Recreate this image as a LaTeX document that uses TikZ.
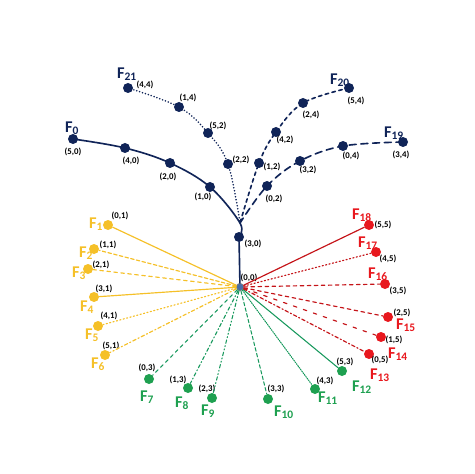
\documentclass[tikz,border=0pt]{standalone}
\usepackage{fontspec}
\setmainfont{Carlito}
\definecolor{navy}{RGB}{16,36,88}
\definecolor{gold}{RGB}{245,192,40}
\definecolor{leaf}{RGB}{30,160,80}
\definecolor{fire}{RGB}{232,24,30}
\definecolor{hubblue}{RGB}{70,110,170}
\begin{document}
\begin{tikzpicture}[x=0.3mm, y=-0.3mm, line cap=round, line join=round,
	dot/.style={circle, fill=#1, inner sep=0pt, minimum size=3mm},
	clab/.style={font=\fontsize{7.5}{8}\selectfont\bfseries, inner sep=0pt},
	flab/.style={text=#1, font=\fontsize{14}{16}\selectfont\bfseries, inner sep=0pt}]
	\useasboundingbox (0,0) rectangle (474,474);
	% root
	\node[circle, fill=hubblue, draw=gray, line width=.6pt, inner sep=0pt, minimum size=2.2mm] (o) at (240,287) {};
	\node[clab] (o-t) at (249,278) {(0,0)};
	% navy branches
	\foreach \nm/\px/\py/\c/\cx/\cy in {a50/73/139/{(5,0)}/73/152, a40/125/148/{(4,0)}/131/161,
		a20/170/163/{(2,0)}/168/177, a10/210/187/{(1,0)}/203/197,
		b44/128/88/{(4,4)}/145/85, b14/179/107/{(1,4)}/188/98, b52/208/133/{(5,2)}/218/126, b22/228/164/{(2,2)}/241/160,
		c54/349/88/{(5,4)}/356/101, c24/303/103/{(2,4)}/311/115, c42/276/132/{(4,2)}/285/140, c12/259/163/{(1,2)}/272/167,
		d34/403/142/{(3,4)}/401/155, d04/343/146/{(0,4)}/351/156, d32/300/161/{(3,2)}/308/170, d02/267/186/{(0,2)}/274/199,
		a30/239/237/{(3,0)}/253/244}
	{
		\node[dot=navy] (\nm) at (\px,\py) {};
		\node[clab] (\nm-t) at (\cx,\cy) {\c};
	}
	\node[flab=navy] (f0) at (72,128) {F\textsubscript{0}};
	\node[flab=navy] (f21) at (127,74) {F\textsubscript{21}};
	\node[flab=navy] (f20) at (340,80) {F\textsubscript{20}};
	\node[flab=navy] (f19) at (394,133) {F\textsubscript{19}};
	\coordinate (hub) at (240,223);
	\draw[navy, line width=1.4pt] plot[smooth, tension=.6] coordinates {(a50) (a40) (a20) (a10) (hub) (a30)};
	\draw[navy, line width=1.5pt, dash pattern=on 0pt off 2.6pt] plot[smooth, tension=.6] coordinates {(b44) (b14) (b52) (b22) (hub)};
	\draw[navy, line width=1.4pt, dashed] plot[smooth, tension=.6] coordinates {(c54) (c24) (c42) (c12) (hub)};
	\draw[navy, line width=1.4pt, dash pattern=on 6pt off 4pt] plot[smooth, tension=.6] coordinates {(d34) (d04) (d32) (d02) (hub)};
	\draw[navy, line width=1.4pt] (a30) -- (o);
	% yellow fan
	\foreach \nm/\px/\py/\c/\cx/\cy/\f/\fx/\fy/\st in {
		y01/108/225/{(0,1)}/120/216/1/96/224/solid,
		y11/94/249/{(1,1)}/108/245/2/86/253/densely dashed,
		y21/88/269/{(2,1)}/101/265/3/79/273/dashed,
		y31/94/297/{(3,1)}/104/289/4/87/307/solid,
		y41/98/326/{(4,1)}/109/316/5/92/335/dotted,
		y51/105/355/{(5,1)}/111/346/6/98/364/dash dot}
	{
		\node[dot=gold] (\nm) at (\px,\py) {};
		\node[clab] (\nm-t) at (\cx,\cy) {\c};
		\node[flab=gold] (\nm-f) at (\fx,\fy) {F\textsubscript{\f}};
		\draw[gold, line width=1pt, \st] (o) -- (\nm);
	}
	% green fan
	\foreach \nm/\px/\py/\c/\cx/\cy/\f/\fx/\fy/\st in {
		g03/149/379/{(0,3)}/147/368/7/147/397/dashed,
		g13/188/388/{(1,3)}/178/380/8/182/403/dash dot,
		g23/212/398/{(2,3)}/207/389/9/208/411/dash dot dot,
		g33/268/399/{(3,3)}/276/389/10/284/412/densely dashed,
		g43/315/389/{(4,3)}/325/381/11/328/398/densely dotted,
		g53/342/371/{(5,3)}/345/362/12/362/387/solid}
	{
		\node[dot=leaf] (\nm) at (\px,\py) {};
		\node[clab] (\nm-t) at (\cx,\cy) {\c};
		\node[flab=leaf] (\nm-f) at (\fx,\fy) {F\textsubscript{\f}};
		\draw[leaf!75!teal, line width=.9pt, \st] (o) -- (\nm);
	}
	% red fan
	\foreach \nm/\px/\py/\c/\cx/\cy/\f/\fx/\fy/\st in {
		r55/369/225/{(5,5)}/383/225/18/362/215/solid,
		r45/376/252/{(4,5)}/388/259/17/368/243/dotted,
		r35/385/284/{(3,5)}/398/291/16/378/274/dashed,
		r25/388/317/{(2,5)}/402/313/15/406/325/dashed,
		r15/381/337/{(1,5)}/394/340/14/398/354/loosely dashed,
		r05/369/354/{(0,5)}/380/360/13/380/375/dash dot}
	{
		\node[dot=fire] (\nm) at (\px,\py) {};
		\node[clab] (\nm-t) at (\cx,\cy) {\c};
		\node[flab=fire] (\nm-f) at (\fx,\fy) {F\textsubscript{\f}};
		\draw[fire!85!black, line width=1pt, \st] (o) -- (\nm);
	}
\end{tikzpicture}
\end{document}
